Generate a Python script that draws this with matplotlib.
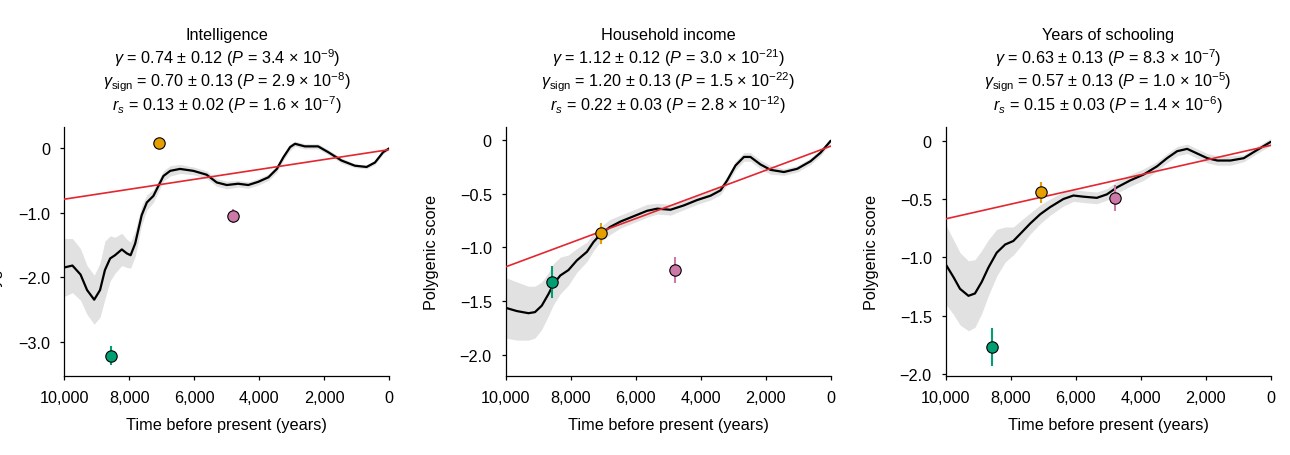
import numpy as np
import matplotlib
matplotlib.use('Agg')
import matplotlib.pyplot as plt
from matplotlib.ticker import FuncFormatter

plt.rcParams['font.family'] = ['Liberation Sans', 'DejaVu Sans']
plt.rcParams['mathtext.fontset'] = 'custom'
plt.rcParams['mathtext.rm'] = 'Liberation Sans'
plt.rcParams['mathtext.it'] = 'Liberation Sans:italic'
plt.rcParams['mathtext.bf'] = 'Liberation Sans:bold'

# ---- data ----
titles = ['Intelligence', 'Household income', 'Years of schooling']
stat_gamma = [r'$\gamma$ = 0.74 ± 0.12 ($P$ = 3.4 × $10^{-9}$)',
              r'$\gamma$ = 1.12 ± 0.12 ($P$ = 3.0 × $10^{-21}$)',
              r'$\gamma$ = 0.63 ± 0.13 ($P$ = 8.3 × $10^{-7}$)']
stat_gsign = [r'$\gamma_{\mathrm{sign}}$ = 0.70 ± 0.13 ($P$ = 2.9 × $10^{-8}$)',
              r'$\gamma_{\mathrm{sign}}$ = 1.20 ± 0.13 ($P$ = 1.5 × $10^{-22}$)',
              r'$\gamma_{\mathrm{sign}}$ = 0.57 ± 0.13 ($P$ = 1.0 × $10^{-5}$)']
stat_rs = [r'$r_s$ = 0.13 ± 0.02 ($P$ = 1.6 × $10^{-7}$)',
           r'$r_s$ = 0.22 ± 0.03 ($P$ = 2.8 × $10^{-12}$)',
           r'$r_s$ = 0.15 ± 0.03 ($P$ = 1.4 × $10^{-6}$)']

# Intelligence
t_int = [10000, 9750, 9500, 9300, 9080, 8900, 8750, 8590, 8440, 8230, 8080, 7960,
         7820, 7620, 7460, 7260, 7100, 6950, 6740, 6440, 6030, 5620, 5310, 5000,
         4650, 4340, 4030, 3720, 3460, 3260, 3050, 2900, 2600, 2400, 2190, 1880,
         1470, 1060, 700, 440, 190, 0]
y_int = [-1.85, -1.82, -1.96, -2.20, -2.35, -2.20, -1.89, -1.71, -1.66, -1.57, -1.63, -1.66,
         -1.48, -1.04, -0.84, -0.74, -0.58, -0.43, -0.35, -0.32, -0.35, -0.41, -0.53, -0.57,
         -0.55, -0.57, -0.52, -0.45, -0.32, -0.14, 0.02, 0.07, 0.03, 0.03, 0.03, -0.06,
         -0.19, -0.27, -0.29, -0.22, -0.06, 0.0]
ci_int = [0.45, 0.42, 0.40, 0.38, 0.38, 0.42, 0.45, 0.35, 0.28, 0.25, 0.22, 0.20,
          0.20, 0.15, 0.12, 0.10, 0.09, 0.08, 0.08, 0.07, 0.06, 0.06, 0.06, 0.06,
          0.05, 0.05, 0.05, 0.05, 0.05, 0.05, 0.05, 0.04, 0.04, 0.04, 0.04, 0.04,
          0.04, 0.03, 0.03, 0.03, 0.03, 0.02]

# Household income
t_inc = [10000, 9660, 9300, 9100, 8890, 8680, 8530, 8320, 8070, 7810, 7500, 7300,
         7090, 6790, 6470, 6060, 5650, 5340, 4930, 4520, 4110, 3700, 3390, 3190,
         2930, 2670, 2470, 2160, 1850, 1440, 1030, 620, 310, 0]
y_inc = [-1.56, -1.59, -1.61, -1.60, -1.54, -1.43, -1.34, -1.26, -1.21, -1.12, -1.04, -0.95,
         -0.88, -0.81, -0.76, -0.71, -0.66, -0.64, -0.65, -0.61, -0.56, -0.52, -0.47, -0.38,
         -0.24, -0.16, -0.16, -0.23, -0.28, -0.30, -0.27, -0.20, -0.12, -0.01]
ci_inc = [0.28, 0.27, 0.25, 0.24, 0.22, 0.20, 0.19, 0.17, 0.14, 0.11, 0.09, 0.08,
          0.07, 0.07, 0.06, 0.06, 0.06, 0.05, 0.05, 0.04, 0.04, 0.04, 0.04, 0.04,
          0.04, 0.04, 0.04, 0.04, 0.04, 0.03, 0.03, 0.03, 0.03, 0.02]

# Years of schooling
t_edu = [10000, 9760, 9560, 9300, 9100, 8890, 8690, 8430, 8170, 7920, 7710, 7400,
         7090, 6790, 6380, 6070, 5760, 5350, 5040, 4730, 4320, 3910, 3500, 3190,
         2880, 2570, 2260, 1950, 1640, 1240, 830, 420, 0]
y_edu = [-1.06, -1.17, -1.27, -1.33, -1.31, -1.21, -1.09, -0.96, -0.89, -0.86, -0.80, -0.71,
         -0.63, -0.57, -0.50, -0.47, -0.48, -0.49, -0.46, -0.40, -0.34, -0.29, -0.22, -0.15,
         -0.09, -0.07, -0.11, -0.15, -0.17, -0.17, -0.15, -0.08, -0.01]
ci_edu = [0.34, 0.32, 0.31, 0.30, 0.29, 0.27, 0.24, 0.20, 0.15, 0.12, 0.11, 0.09,
          0.08, 0.07, 0.06, 0.05, 0.05, 0.05, 0.05, 0.05, 0.05, 0.05, 0.04, 0.04,
          0.04, 0.04, 0.04, 0.04, 0.04, 0.04, 0.03, 0.03, 0.03]

# regression line values at 10,000 and 0 years
fit_old = [-0.79, -1.18, -0.67]
fit_now = [-0.02, -0.06, -0.04]

# ancient groups: (time, score, error) per panel, order green / orange / purple
grp_colors = ['#009E73', '#E69F00', '#CC79A7']
grp_time = [[8570, 7075, 4795], [8580, 7080, 4800], [8570, 7070, 4800]]
grp_score = [[-3.22, 0.08, -1.045], [-1.32, -0.87, -1.21], [-1.77, -0.44, -0.49]]
grp_err = [[0.15, 0.05, 0.11], [0.15, 0.10, 0.12], [0.165, 0.09, 0.11]]

ylims = [(-3.53, 0.326), (-2.19, 0.115), (-2.015, 0.115)]
yticks = [[0, -1, -2, -3], [0, -0.5, -1, -1.5, -2], [0, -0.5, -1, -1.5, -2]]

curves = [(t_int, y_int, ci_int), (t_inc, y_inc, ci_inc), (t_edu, y_edu, ci_edu)]


def ytick_fmt(v, pos):
    if abs(v) < 1e-9:
        return '0'
    return ('%.1f' % v).replace('-', '\u2212')


def xtick_fmt(v, pos):
    return '{:,}'.format(int(round(v)))


W, H = 1290, 456
fig = plt.figure(figsize=(W / 100, H / 100), dpi=100)
lefts = [64.3, 505.7, 945.7]
ax_w, ax_top, ax_bot = 325.0, 128.3, 376.7
fs = 11.7

for i in range(3):
    ax = fig.add_axes([lefts[i] / W, 1 - ax_bot / H, ax_w / W, (ax_bot - ax_top) / H])
    t, y, ci = (np.array(a, dtype=float) for a in curves[i])
    ax.fill_between(t, y - ci, y + ci, color='#e1e1e1', lw=0, zorder=1)
    ax.plot(t, y, color='black', lw=1.6, zorder=3,
            solid_joinstyle='round', solid_capstyle='round')
    ax.plot([10000, 0], [fit_old[i], fit_now[i]], color='#e3262f', lw=1.2, zorder=4)
    for k in range(3):
        ax.errorbar(grp_time[i][k], grp_score[i][k], yerr=grp_err[i][k], fmt='o',
                    ms=8.2, mfc=grp_colors[k], mec='black', mew=0.8,
                    ecolor=grp_colors[k], elinewidth=1.5, capsize=0, zorder=5)

    ax.set_xlim(10000, 0)
    ax.set_ylim(*ylims[i])
    ax.set_xticks([10000, 8000, 6000, 4000, 2000, 0])
    ax.set_yticks(yticks[i])
    ax.xaxis.set_major_formatter(FuncFormatter(xtick_fmt))
    ax.yaxis.set_major_formatter(FuncFormatter(ytick_fmt))
    for s in ['top', 'right']:
        ax.spines[s].set_visible(False)
    for s in ['left', 'bottom']:
        ax.spines[s].set_linewidth(0.9)
    ax.tick_params(direction='out', length=3, width=0.9, labelsize=fs, pad=7)
    ax.set_xlabel('Time before present (years)', fontsize=fs, labelpad=9)
    ax.set_ylabel('Polygenic score', fontsize=fs)
    # first panel's label sits mostly outside the canvas, as in the source figure
    ax.yaxis.set_label_coords(-0.205 if i else -0.19, 0.5)

    cx = (lefts[i] + ax_w / 2) / W
    for line, yb in zip([titles[i], stat_gamma[i], stat_gsign[i], stat_rs[i]],
                        [40, 64, 87.3, 110.7]):
        fig.text(cx, 1 - yb / H, line, ha='center', va='baseline', fontsize=fs)

fig.savefig('out.png', dpi=100)
